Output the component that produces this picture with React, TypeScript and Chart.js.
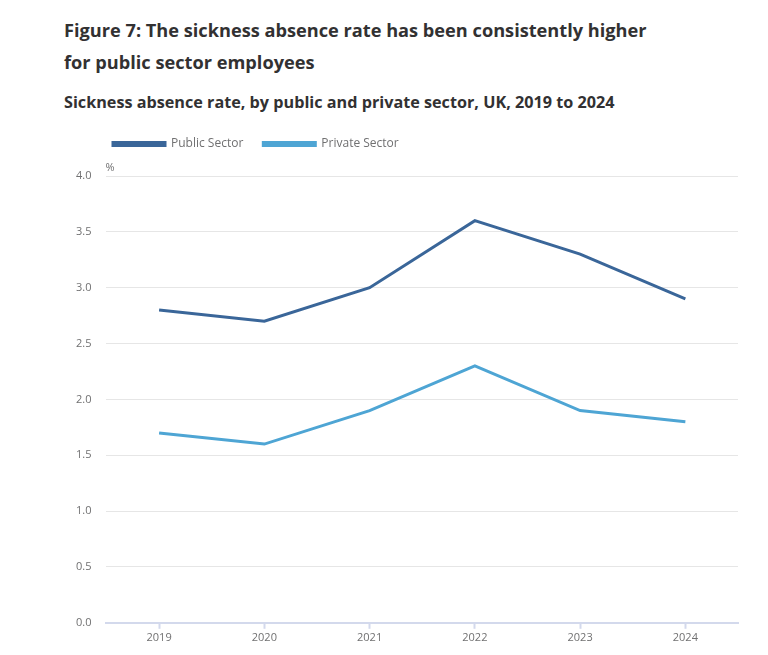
import React, { useEffect, useRef } from "react";
import { Chart, registerables } from "chart.js";

Chart.register(...registerables);

const years = ["2019", "2020", "2021", "2022", "2023", "2024"];
const publicSector = [2.8, 2.7, 3.0, 3.6, 3.3, 2.9];
const privateSector = [1.7, 1.6, 1.9, 2.3, 1.9, 1.8];
const seriesNames = ["Public Sector", "Private Sector"];
const seriesColors = ["#3a6699", "#4ea5d4"];
const yTicks = [0, 0.5, 1, 1.5, 2, 2.5, 3, 3.5, 4];

const FONT = "'Open Sans', sans-serif";

const percentPlugin = {
  id: "percentLabel",
  afterDraw(chart: any) {
    const { ctx, chartArea } = chart;
    ctx.save();
    ctx.font = `11px ${FONT}`;
    ctx.fillStyle = "#707071";
    ctx.textAlign = "left";
    ctx.textBaseline = "bottom";
    ctx.fillText("%", chartArea.left - 1, chartArea.top - 3);
    ctx.restore();
  },
};

const legendTweak = {
  id: "legendTweak",
  beforeUpdate(chart: any) {
    const lg = chart.legend;
    if (lg && !lg._patched) {
      const orig = lg.fit;
      lg.fit = function () {
        orig.call(this);
        this.height += 16;
      };
      lg._patched = true;
    }
  },
  afterLayout(chart: any) {
    const lg = chart.legend;
    if (lg) {
      lg.left += 32;
      lg.right += 32;
    }
  },
};

export default function App() {
  const ref = useRef<HTMLCanvasElement | null>(null);

  useEffect(() => {
    if (!ref.current) return;
    const chart = new Chart(ref.current, {
      type: "line",
      data: {
        labels: years,
        datasets: [
          {
            label: seriesNames[0],
            data: publicSector,
            borderColor: seriesColors[0],
            backgroundColor: seriesColors[0],
            borderWidth: 3,
            pointRadius: 0,
            tension: 0,
          },
          {
            label: seriesNames[1],
            data: privateSector,
            borderColor: seriesColors[1],
            backgroundColor: seriesColors[1],
            borderWidth: 3,
            pointRadius: 0,
            tension: 0,
          },
        ],
      },
      options: {
        animation: false,
        responsive: true,
        maintainAspectRatio: false,
        layout: { padding: { left: 53, right: 22, top: 5, bottom: 1 } },
        plugins: {
          legend: {
            position: "top",
            align: "start",
            labels: {
              boxWidth: 52,
              boxHeight: 3,
              padding: 20,
              color: "#707071",
              font: { family: FONT, size: 12 },
            },
          },
          tooltip: { enabled: false },
          title: { display: false },
        },
        scales: {
          x: {
            offset: true,
            grid: {
              display: true,
              drawOnChartArea: false,
              drawTicks: true,
              tickLength: 6,
              tickColor: "#d3d9ec",
              tickWidth: 2,
            },
            border: { display: true, color: "#d3d9ec", width: 2 },
            ticks: {
              color: "#707071",
              font: { family: FONT, size: 11 },
              padding: 2,
              maxRotation: 0,
            },
          },
          y: {
            min: yTicks[0],
            max: yTicks[yTicks.length - 1],
            afterBuildTicks(scale: any) {
              scale.ticks = yTicks.map((v) => ({ value: v }));
            },
            grid: { color: "#e6e6e6", drawTicks: false, lineWidth: 1 },
            border: { display: false },
            ticks: {
              padding: 15,
              color: "#707071",
              font: { family: FONT, size: 11 },
              callback: (v: any) => Number(v).toFixed(1),
            },
          },
        },
      },
      plugins: [percentPlugin, legendTweak],
    });
    return () => chart.destroy();
  }, []);

  return (
    <div style={{ fontFamily: FONT, color: "#323132" }}>
      <div
        style={{
          paddingLeft: 56,
          marginTop: 6,
          fontSize: 18.2,
          fontWeight: 700,
          lineHeight: "32px",
        }}
      >
        Figure 7: The sickness absence rate has been consistently higher
        <br />
        for public sector employees
      </div>
      <div
        style={{
          paddingLeft: 56,
          marginTop: 13,
          fontSize: 16.2,
          fontWeight: 700,
          lineHeight: "22px",
        }}
      >
        Sickness absence rate, by public and private sector, UK, 2019 to 2024
      </div>
      <div style={{ position: "relative", width: 752, height: 534 }}>
        <canvas ref={ref} />
      </div>
    </div>
  );
}
